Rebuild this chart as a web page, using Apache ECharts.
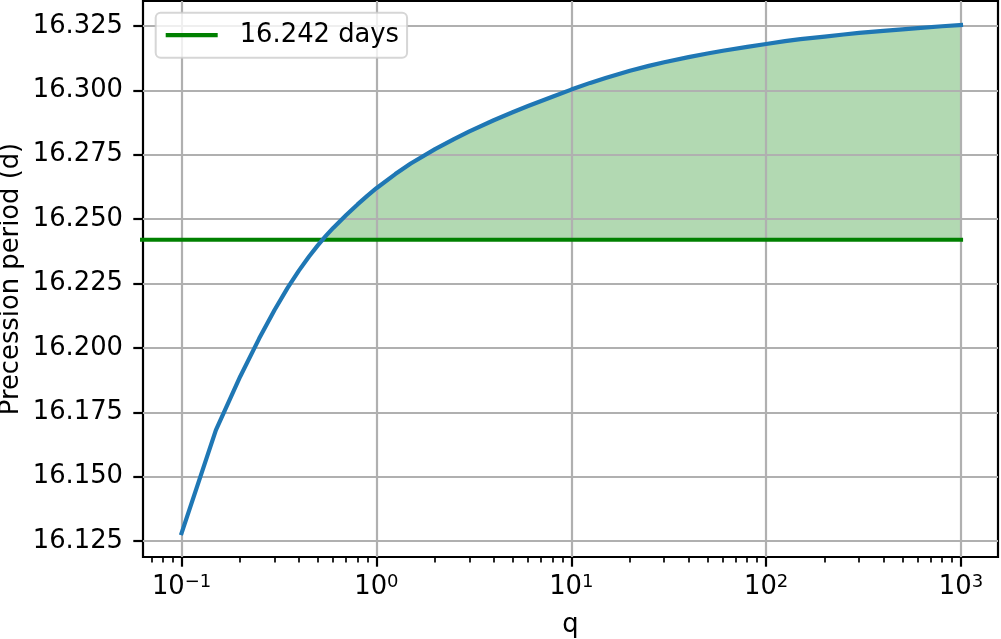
<!DOCTYPE html>
<html><head><meta charset="utf-8">
<script src="https://cdn.jsdelivr.net/npm/echarts@6/dist/echarts.min.js"></script>
<style>html,body{margin:0;padding:0;background:#fff}#c{width:1001px;height:639px}</style>
</head><body><div id="c"></div>
<script>
// ---- data ----
const qValues = [0.1,0.15,0.2,0.25,0.3,0.35,0.4,0.45,0.5,0.55,0.6,0.7,0.8,0.9,1,
  1.25,1.5,2,2.5,3,4,5,6,8,10,12.5,15,20,25,30,40,50,60,80,100,
  125,150,200,250,300,400,500,600,800,1000];
const periodDays = [16.1281,16.1681,16.1889,16.2036,16.2147,16.2233,16.2300,16.2354,16.2398,16.2435,16.2466,16.2516,16.2557,16.2591,16.2620,
  16.2675,16.2716,16.2772,16.2811,16.2841,16.2884,16.2915,16.2939,16.2975,16.3003,16.3029,16.3048,16.3076,16.3095,16.3109,16.3129,16.3143,16.3154,16.3169,16.3180,
  16.3191,16.3199,16.3209,16.3217,16.3223,16.3231,16.3237,16.3242,16.3249,16.3254];
const threshold = 16.242;
const thresholdLabel = '16.242 days';
const thresholdQ = [0.01, 1000];
const xMajorTicks = [0.1, 1, 10, 100, 1000];
const xMinorTicks = [0.07,0.08,0.09,0.2,0.3,0.4,0.5,0.6,0.7,0.8,0.9,2,3,4,5,6,7,8,9,20,30,40,50,60,70,80,90,200,300,400,500,600,700,800,900];
const yTicks = [16.125,16.150,16.175,16.200,16.225,16.250,16.275,16.300,16.325];
const xRange = [Math.pow(10,-1.198), Math.pow(10,3.19)];
const yRange = [16.1188, 16.3347];
const xName = 'q';
const yName = 'Precession period (d)';

// ---- chart ----
const FONT = 'DejaVu Sans';
const FS = 25.8;
const lineData = qValues.map((q, i) => [q, periodDays[i]]);
const fillData = lineData.filter(d => d[1] > threshold);
const supFmt = v => {
  const e = Math.round(Math.log10(v));
  return '{b|10}{s|' + (e < 0 ? '\u2212' + (-e) : String(e)) + '}';
};
const chart = echarts.init(document.getElementById('c'), null, {renderer: 'canvas'});
chart.setOption({
  animation: false,
  backgroundColor: '#fff',
  grid: {left: 143, right: 3, top: 1, bottom: 82, show: true, borderColor: '#000', borderWidth: 2.2,
    backgroundColor: 'transparent', containLabel: false, outerBoundsMode: 'none'},
  legend: {
    data: [{name: thresholdLabel, icon: 'rect'}],
    left: 155.7, top: 12.7, orient: 'vertical',
    itemWidth: 52, itemHeight: 4.2,
    padding: [9, 8, 9, 10],
    backgroundColor: 'rgba(255,255,255,0.8)',
    borderColor: 'rgba(204,204,204,0.8)', borderWidth: 2, borderRadius: 5,
    itemStyle: {color: '#008000', borderWidth: 0},
    textStyle: {fontFamily: FONT, fontSize: FS, color: '#000', padding: [0, 0, 0, 17], lineHeight: 27},
    selectedMode: false
  },
  xAxis: [{
    type: 'log', logBase: 10, min: xRange[0], max: xRange[1], position: 'bottom',
    name: xName, nameLocation: 'middle', nameGap: 53, nameMoveOverlap: false,
    nameTextStyle: {fontFamily: FONT, fontSize: FS, color: '#000', lineHeight: 30},
    axisLine: {show: false},
    axisTick: {show: true, customValues: xMajorTicks, length: 9.7, lineStyle: {color: '#000', width: 2.2}},
    axisLabel: {customValues: xMajorTicks, margin: 15, formatter: supFmt, color: '#000', fontFamily: FONT,
      rich: {
        b: {fontFamily: FONT, fontSize: FS, color: '#000', lineHeight: 30},
        s: {fontFamily: FONT, fontSize: 18, color: '#000', lineHeight: 18, padding: [0, 0, 10, 0]}
      }},
    splitLine: {show: true, lineStyle: {color: '#b0b0b0', width: 2.2}},
    minorTick: {show: false}
  }, {
    type: 'log', logBase: 10, min: xRange[0], max: xRange[1], position: 'bottom',
    axisLine: {show: false},
    axisTick: {show: true, customValues: xMinorTicks, length: 5.6, lineStyle: {color: '#000', width: 1.7}},
    axisLabel: {show: false},
    splitLine: {show: false}
  }],
  yAxis: {
    type: 'value', min: yRange[0], max: yRange[1],
    name: yName, nameLocation: 'middle', nameGap: 117, nameMoveOverlap: false,
    nameTextStyle: {fontFamily: FONT, fontSize: FS, color: '#000', lineHeight: 30},
    axisLine: {show: false},
    axisTick: {show: true, customValues: yTicks, length: 9.7, lineStyle: {color: '#000', width: 2.2}},
    axisLabel: {customValues: yTicks, margin: 20, formatter: v => v.toFixed(3), fontFamily: FONT, fontSize: FS, color: '#000'},
    splitLine: {show: true, lineStyle: {color: '#b0b0b0', width: 2.2}}
  },
  series: [{
    name: 'fill', type: 'line', data: fillData, xAxisIndex: 0, symbol: 'none', silent: true,
    lineStyle: {width: 0}, areaStyle: {origin: threshold, color: 'rgba(0,128,0,0.3)', opacity: 1}, z: -1
  }, {
    name: thresholdLabel, type: 'line', xAxisIndex: 0, data: thresholdQ.map(q => [q, threshold]), symbol: 'none',
    color: '#008000', itemStyle: {color: '#008000'},
    lineStyle: {color: '#008000', width: 4.2, cap: 'square'}, z: 3
  }, {
    name: 'curve', type: 'line', xAxisIndex: 0, data: lineData, symbol: 'none',
    lineStyle: {color: '#1f77b4', width: 4.2, cap: 'square', join: 'round'}, z: 4
  }]
});
</script>
</body></html>
